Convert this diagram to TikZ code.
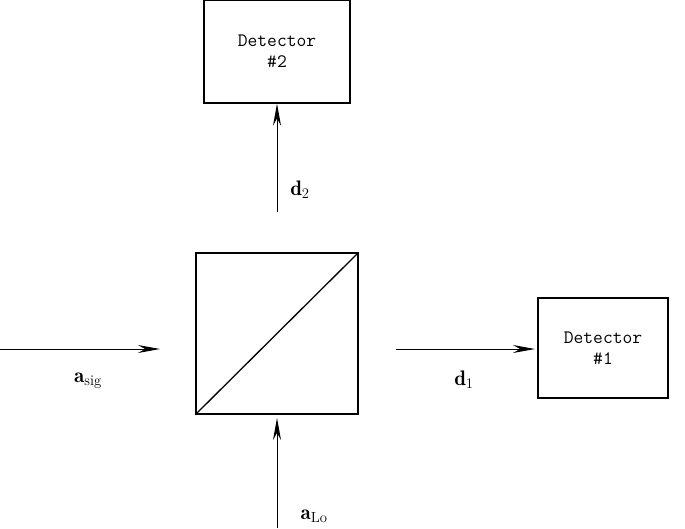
\documentclass[tikz,border=0pt]{standalone}
\usepackage{fontspec}
\usepackage{fix-cm}
\usetikzlibrary{arrows.meta}
\begin{document}
\begin{tikzpicture}[x=1pt,y=-1pt,
  box/.style={draw,line width=1.3pt,inner sep=0pt,font=\fontsize{19}{21}\selectfont\ttfamily,align=center},
  arr/.style={line width=1pt,-{Stealth[length=22pt,width=8pt]}},
  lab/.style={font=\fontsize{21}{23}\selectfont}]
\useasboundingbox (0,0) rectangle (685,528);
\node[box,minimum width=146pt,minimum height=103pt] (det2) at (277,51.5) {Detector\\\#2};
\node[box,minimum width=162pt,minimum height=161pt] (bs) at (277,333.5) {};
\draw[line width=1.3pt] (bs.south west) -- (bs.north east);
\node[box,minimum width=130pt,minimum height=100pt] (det1) at (603,348) {Detector\\\#1};
\coordinate (s0) at (0,349);
\coordinate (s1) at (160,349);
\coordinate (r0) at (396,349);
\coordinate (r1) at (535,349);
\coordinate (u0) at (277,212);
\coordinate (l0) at (277,528);
\coordinate (l1) at (277,418);
\draw[arr] (s0) -- (s1);
\draw[arr] (r0) -- (r1);
\draw[arr] (u0) -- (det2.south);
\draw[arr] (l0) -- (l1);
\node[lab] (asig) at (88,381) {$\mathbf{a}_{\mathrm{sig}}$};
\node[lab] (d1) at (464,380) {$\mathbf{d}_{1}$};
\node[lab] (d2) at (300,190) {$\mathbf{d}_{2}$};
\node[lab] (alo) at (314,516) {$\mathbf{a}_{\mathrm{Lo}}$};
\end{tikzpicture}
\end{document}
